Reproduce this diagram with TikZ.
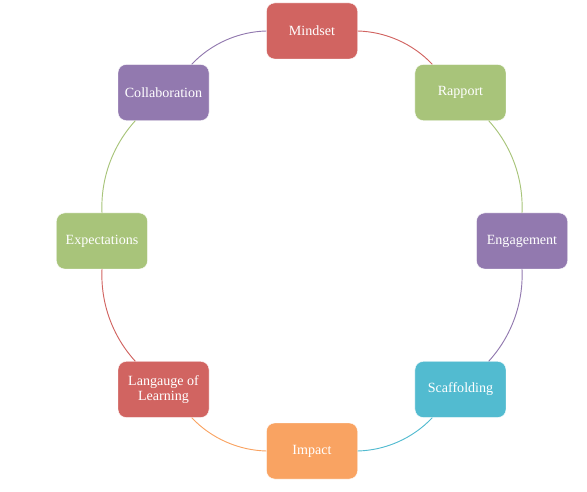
\documentclass[tikz,border=0pt]{standalone}
\usepackage{fontspec}
\setmainfont{Liberation Serif}
\usepackage{tikz}
\usetikzlibrary{positioning}

\definecolor{cred}{HTML}{D16461}
\definecolor{cgreen}{HTML}{A8C47A}
\definecolor{cpurple}{HTML}{9279AF}
\definecolor{cteal}{HTML}{52BBD0}
\definecolor{corange}{HTML}{F9A362}

\begin{document}
\begin{tikzpicture}[
  box/.style={rounded corners=2.4mm, align=center, text=white,
    font=\fontsize{12}{12.5}\selectfont, minimum width=2.73cm,
    minimum height=1.68cm, inner sep=2pt, draw=white, line width=0.4pt},
  link/.style={line width=0.8pt, bend left=22.5, looseness=0.885}
]
\useasboundingbox (-9.36,-7.53) rectangle (8.25,7.23);

\node[box, fill=cred] (mindset) at (90:6.3) {Mindset};
\node[box, fill=cgreen] (rapport) at (45:6.3) {Rapport};
\node[box, fill=cpurple] (engage) at (0:6.3) {Engagement};
\node[box, fill=cteal] (scaffold) at (-45:6.3) {Scaffolding};
\node[box, fill=corange] (impact) at (-90:6.3) {Impact};
\node[box, fill=cred] (lang) at (-135:6.3) {Langauge of\\Learning};
\node[box, fill=cgreen] (expect) at (180:6.3) {Expectations};
\node[box, fill=cpurple] (collab) at (135:6.3) {Collaboration};

\draw[link, cred] (mindset) to (rapport);
\draw[link, cgreen] (rapport) to (engage);
\draw[link, cpurple] (engage) to (scaffold);
\draw[link, cteal] (scaffold) to (impact);
\draw[link, corange] (impact) to (lang);
\draw[link, cred] (lang) to (expect);
\draw[link, cgreen] (expect) to (collab);
\draw[link, cpurple] (collab) to (mindset);
\end{tikzpicture}
\end{document}
